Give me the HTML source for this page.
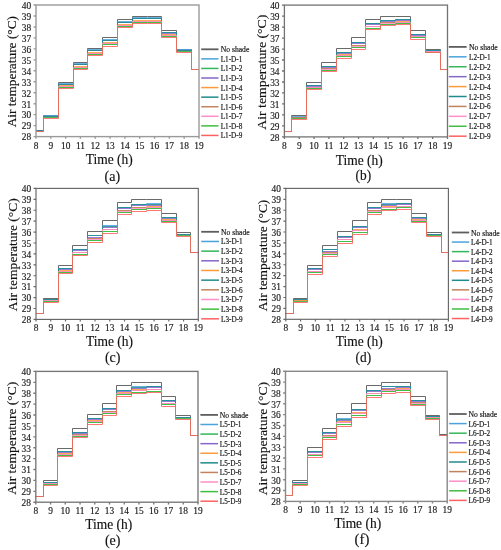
<!DOCTYPE html>
<html><head><meta charset="utf-8"><title>Air temperature</title>
<style>html,body{margin:0;padding:0;background:#fff;}body{width:501px;height:550px;overflow:hidden;}svg{display:block;}</style>
</head><body>
<svg width="501" height="550" viewBox="0 0 501 550" font-family='"Liberation Serif", "Times New Roman", serif'><g fill="none" stroke-width="1" stroke-opacity="0.85"><path d="M36 130.5 L43.5 130.5 L43.5 115.5 L58.5 115.5 L58.5 82.5 L73.5 82.5 L73.5 62.5 L87.5 62.5 L87.5 48.5 L102.5 48.5 L102.5 37.5 L117.5 37.5 L117.5 19.5 L132.5 19.5 L132.5 16.5 L147.5 16.5 L147.5 16.5 L161.5 16.5 L161.5 30.5 L176.5 30.5 L176.5 49.5 L191.5 49.5 L191.5 69.5 L199 69.5" stroke="#505050"/><path d="M36 130.5 L43.5 130.5 L43.5 115.5 L58.5 115.5 L58.5 83.5 L73.5 83.5 L73.5 63.5 L87.5 63.5 L87.5 49.5 L102.5 49.5 L102.5 39.5 L117.5 39.5 L117.5 21.5 L132.5 21.5 L132.5 17.5 L147.5 17.5 L147.5 17.5 L161.5 17.5 L161.5 32.5 L176.5 32.5 L176.5 49.5 L191.5 49.5 L191.5 69.5 L199 69.5" stroke="#4aa3dc"/><path d="M36 131.5 L43.5 131.5 L43.5 117.5 L58.5 117.5 L58.5 87.5 L73.5 87.5 L73.5 68.5 L87.5 68.5 L87.5 54.5 L102.5 54.5 L102.5 44.5 L117.5 44.5 L117.5 26.5 L132.5 26.5 L132.5 22.5 L147.5 22.5 L147.5 22.5 L161.5 22.5 L161.5 36.5 L176.5 36.5 L176.5 51.5 L191.5 51.5 L191.5 69.5 L199 69.5" stroke="#35b65a"/><path d="M36 130.5 L43.5 130.5 L43.5 116.5 L58.5 116.5 L58.5 84.5 L73.5 84.5 L73.5 64.5 L87.5 64.5 L87.5 50.5 L102.5 50.5 L102.5 40.5 L117.5 40.5 L117.5 22.5 L132.5 22.5 L132.5 18.5 L147.5 18.5 L147.5 18.5 L161.5 18.5 L161.5 33.5 L176.5 33.5 L176.5 50.5 L191.5 50.5 L191.5 69.5 L199 69.5" stroke="#8566c9"/><path d="M36 131.5 L43.5 131.5 L43.5 117.5 L58.5 117.5 L58.5 85.5 L73.5 85.5 L73.5 66.5 L87.5 66.5 L87.5 52.5 L102.5 52.5 L102.5 42.5 L117.5 42.5 L117.5 24.5 L132.5 24.5 L132.5 20.5 L147.5 20.5 L147.5 20.5 L161.5 20.5 L161.5 34.5 L176.5 34.5 L176.5 51.5 L191.5 51.5 L191.5 69.5 L199 69.5" stroke="#ff9a3a"/><path d="M36 130.5 L43.5 130.5 L43.5 116.5 L58.5 116.5 L58.5 84.5 L73.5 84.5 L73.5 64.5 L87.5 64.5 L87.5 50.5 L102.5 50.5 L102.5 40.5 L117.5 40.5 L117.5 22.5 L132.5 22.5 L132.5 18.5 L147.5 18.5 L147.5 18.5 L161.5 18.5 L161.5 32.5 L176.5 32.5 L176.5 50.5 L191.5 50.5 L191.5 69.5 L199 69.5" stroke="#1f8a8f"/><path d="M36 131.5 L43.5 131.5 L43.5 117.5 L58.5 117.5 L58.5 86.5 L73.5 86.5 L73.5 67.5 L87.5 67.5 L87.5 53.5 L102.5 53.5 L102.5 43.5 L117.5 43.5 L117.5 25.5 L132.5 25.5 L132.5 21.5 L147.5 21.5 L147.5 21.5 L161.5 21.5 L161.5 35.5 L176.5 35.5 L176.5 51.5 L191.5 51.5 L191.5 69.5 L199 69.5" stroke="#c4825c"/><path d="M36 131.5 L43.5 131.5 L43.5 117.5 L58.5 117.5 L58.5 86.5 L73.5 86.5 L73.5 67.5 L87.5 67.5 L87.5 53.5 L102.5 53.5 L102.5 43.5 L117.5 43.5 L117.5 25.5 L132.5 25.5 L132.5 21.5 L147.5 21.5 L147.5 21.5 L161.5 21.5 L161.5 35.5 L176.5 35.5 L176.5 51.5 L191.5 51.5 L191.5 69.5 L199 69.5" stroke="#ff8fc8"/><path d="M36 131.5 L43.5 131.5 L43.5 117.5 L58.5 117.5 L58.5 87.5 L73.5 87.5 L73.5 68.5 L87.5 68.5 L87.5 54.5 L102.5 54.5 L102.5 44.5 L117.5 44.5 L117.5 26.5 L132.5 26.5 L132.5 22.5 L147.5 22.5 L147.5 22.5 L161.5 22.5 L161.5 36.5 L176.5 36.5 L176.5 51.5 L191.5 51.5 L191.5 69.5 L199 69.5" stroke="#3fbe3f"/><path d="M36 131.5 L43.5 131.5 L43.5 118.5 L58.5 118.5 L58.5 88.5 L73.5 88.5 L73.5 69.5 L87.5 69.5 L87.5 55.5 L102.5 55.5 L102.5 46.5 L117.5 46.5 L117.5 27.5 L132.5 27.5 L132.5 23.5 L147.5 23.5 L147.5 23.5 L161.5 23.5 L161.5 37.5 L176.5 37.5 L176.5 52.5 L191.5 52.5 L191.5 69.5 L199 69.5" stroke="#ff6060"/></g><g fill="none" stroke="#9a9a9a" stroke-width="1.4"><rect x="36" y="5" width="163" height="131.6"/><path d="M33.6 136.6H36M33.6 125.63H36M33.6 114.67H36M33.6 103.7H36M33.6 92.73H36M33.6 81.77H36M33.6 70.8H36M33.6 59.83H36M33.6 48.87H36M33.6 37.9H36M33.6 26.93H36M33.6 15.97H36M33.6 5H36M36 136.6V138.8M50.82 136.6V138.8M65.64 136.6V138.8M80.45 136.6V138.8M95.27 136.6V138.8M110.09 136.6V138.8M124.91 136.6V138.8M139.73 136.6V138.8M154.55 136.6V138.8M169.36 136.6V138.8M184.18 136.6V138.8M199 136.6V138.8"/></g><g font-size="9.4" fill="#1a1a1a" stroke="#1a1a1a" stroke-width="0.16"><text x="31.1" y="140.4" text-anchor="end">28</text><text x="31.1" y="129.43" text-anchor="end">29</text><text x="31.1" y="118.47" text-anchor="end">30</text><text x="31.1" y="107.5" text-anchor="end">31</text><text x="31.1" y="96.53" text-anchor="end">32</text><text x="31.1" y="85.57" text-anchor="end">33</text><text x="31.1" y="74.6" text-anchor="end">34</text><text x="31.1" y="63.63" text-anchor="end">35</text><text x="31.1" y="52.67" text-anchor="end">36</text><text x="31.1" y="41.7" text-anchor="end">37</text><text x="31.1" y="30.73" text-anchor="end">38</text><text x="31.1" y="19.77" text-anchor="end">39</text><text x="31.1" y="8.8" text-anchor="end">40</text><text x="36" y="148.6" text-anchor="middle">8</text><text x="50.82" y="148.6" text-anchor="middle">9</text><text x="65.64" y="148.6" text-anchor="middle">10</text><text x="80.45" y="148.6" text-anchor="middle">11</text><text x="95.27" y="148.6" text-anchor="middle">12</text><text x="110.09" y="148.6" text-anchor="middle">13</text><text x="124.91" y="148.6" text-anchor="middle">14</text><text x="139.73" y="148.6" text-anchor="middle">15</text><text x="154.55" y="148.6" text-anchor="middle">16</text><text x="169.36" y="148.6" text-anchor="middle">17</text><text x="184.18" y="148.6" text-anchor="middle">18</text><text x="199" y="148.6" text-anchor="middle">19</text></g><text transform="translate(15.9 71.65) scale(0.93 1) rotate(-90)" text-anchor="middle" font-size="13.36" fill="#111" stroke="#111" stroke-width="0.15">Air temperature (°C)</text><text x="109.3" y="163.5" text-anchor="middle" font-size="13.8" textLength="47" lengthAdjust="spacingAndGlyphs" fill="#111" stroke="#111" stroke-width="0.15">Time (h)</text><text x="112.4" y="180.6" text-anchor="middle" font-size="14.5" textLength="15.6" lengthAdjust="spacingAndGlyphs" fill="#111" stroke="#111" stroke-width="0.15">(a)</text><g stroke-width="1.5"><path d="M201.2 49.3H218.5" stroke="#5e5e5e" stroke-width="1.8"/><path d="M201.2 58.87H218.5" stroke="#4aa3dc"/><path d="M201.2 68.44H218.5" stroke="#35b65a"/><path d="M201.2 78.01H218.5" stroke="#8566c9"/><path d="M201.2 87.58H218.5" stroke="#ff9a3a"/><path d="M201.2 97.15H218.5" stroke="#1f8a8f"/><path d="M201.2 106.72H218.5" stroke="#c4825c"/><path d="M201.2 116.29H218.5" stroke="#ff8fc8"/><path d="M201.2 125.86H218.5" stroke="#3fbe3f"/><path d="M201.2 135.43H218.5" stroke="#ff6060"/></g><g font-size="8" fill="#1a1a1a" stroke="#1a1a1a" stroke-width="0.2"><text x="220.7" y="52.3" textLength="28.6" lengthAdjust="spacingAndGlyphs">No shade</text><text x="220.7" y="61.87" textLength="21.6" lengthAdjust="spacingAndGlyphs">L1-D-1</text><text x="220.7" y="71.44" textLength="21.6" lengthAdjust="spacingAndGlyphs">L1-D-2</text><text x="220.7" y="81.01" textLength="21.6" lengthAdjust="spacingAndGlyphs">L1-D-3</text><text x="220.7" y="90.58" textLength="21.6" lengthAdjust="spacingAndGlyphs">L1-D-4</text><text x="220.7" y="100.15" textLength="21.6" lengthAdjust="spacingAndGlyphs">L1-D-5</text><text x="220.7" y="109.72" textLength="21.6" lengthAdjust="spacingAndGlyphs">L1-D-6</text><text x="220.7" y="119.29" textLength="21.6" lengthAdjust="spacingAndGlyphs">L1-D-7</text><text x="220.7" y="128.86" textLength="21.6" lengthAdjust="spacingAndGlyphs">L1-D-8</text><text x="220.7" y="138.43" textLength="21.6" lengthAdjust="spacingAndGlyphs">L1-D-9</text></g><g fill="none" stroke-width="1" stroke-opacity="0.85"><path d="M284.4 131.5 L291.5 131.5 L291.5 115.5 L306.5 115.5 L306.5 82.5 L321.5 82.5 L321.5 62.5 L336.5 62.5 L336.5 48.5 L351.5 48.5 L351.5 37.5 L365.5 37.5 L365.5 19.5 L380.5 19.5 L380.5 16.5 L395.5 16.5 L395.5 16.5 L410.5 16.5 L410.5 30.5 L425.5 30.5 L425.5 49.5 L440.5 49.5 L440.5 69.5 L447.5 69.5" stroke="#505050"/><path d="M284.4 131.5 L291.5 131.5 L291.5 116.5 L306.5 116.5 L306.5 85.5 L321.5 85.5 L321.5 66.5 L336.5 66.5 L336.5 52.5 L351.5 52.5 L351.5 42.5 L365.5 42.5 L365.5 23.5 L380.5 23.5 L380.5 20.5 L395.5 20.5 L395.5 19.5 L410.5 19.5 L410.5 34.5 L425.5 34.5 L425.5 50.5 L440.5 50.5 L440.5 69.5 L447.5 69.5" stroke="#4aa3dc"/><path d="M284.4 131.5 L291.5 131.5 L291.5 118.5 L306.5 118.5 L306.5 88.5 L321.5 88.5 L321.5 70.5 L336.5 70.5 L336.5 56.5 L351.5 56.5 L351.5 47.5 L365.5 47.5 L365.5 28.5 L380.5 28.5 L380.5 24.5 L395.5 24.5 L395.5 23.5 L410.5 23.5 L410.5 37.5 L425.5 37.5 L425.5 52.5 L440.5 52.5 L440.5 69.5 L447.5 69.5" stroke="#35b65a"/><path d="M284.4 131.5 L291.5 131.5 L291.5 117.5 L306.5 117.5 L306.5 86.5 L321.5 86.5 L321.5 67.5 L336.5 67.5 L336.5 53.5 L351.5 53.5 L351.5 43.5 L365.5 43.5 L365.5 24.5 L380.5 24.5 L380.5 21.5 L395.5 21.5 L395.5 20.5 L410.5 20.5 L410.5 35.5 L425.5 35.5 L425.5 51.5 L440.5 51.5 L440.5 69.5 L447.5 69.5" stroke="#8566c9"/><path d="M284.4 131.5 L291.5 131.5 L291.5 117.5 L306.5 117.5 L306.5 87.5 L321.5 87.5 L321.5 68.5 L336.5 68.5 L336.5 54.5 L351.5 54.5 L351.5 45.5 L365.5 45.5 L365.5 26.5 L380.5 26.5 L380.5 22.5 L395.5 22.5 L395.5 21.5 L410.5 21.5 L410.5 36.5 L425.5 36.5 L425.5 51.5 L440.5 51.5 L440.5 69.5 L447.5 69.5" stroke="#ff9a3a"/><path d="M284.4 131.5 L291.5 131.5 L291.5 117.5 L306.5 117.5 L306.5 85.5 L321.5 85.5 L321.5 66.5 L336.5 66.5 L336.5 52.5 L351.5 52.5 L351.5 42.5 L365.5 42.5 L365.5 23.5 L380.5 23.5 L380.5 20.5 L395.5 20.5 L395.5 19.5 L410.5 19.5 L410.5 34.5 L425.5 34.5 L425.5 50.5 L440.5 50.5 L440.5 69.5 L447.5 69.5" stroke="#1f8a8f"/><path d="M284.4 131.5 L291.5 131.5 L291.5 117.5 L306.5 117.5 L306.5 87.5 L321.5 87.5 L321.5 68.5 L336.5 68.5 L336.5 55.5 L351.5 55.5 L351.5 45.5 L365.5 45.5 L365.5 26.5 L380.5 26.5 L380.5 22.5 L395.5 22.5 L395.5 22.5 L410.5 22.5 L410.5 36.5 L425.5 36.5 L425.5 51.5 L440.5 51.5 L440.5 69.5 L447.5 69.5" stroke="#c4825c"/><path d="M284.4 131.5 L291.5 131.5 L291.5 118.5 L306.5 118.5 L306.5 87.5 L321.5 87.5 L321.5 69.5 L336.5 69.5 L336.5 55.5 L351.5 55.5 L351.5 46.5 L365.5 46.5 L365.5 26.5 L380.5 26.5 L380.5 23.5 L395.5 23.5 L395.5 22.5 L410.5 22.5 L410.5 36.5 L425.5 36.5 L425.5 51.5 L440.5 51.5 L440.5 69.5 L447.5 69.5" stroke="#ff8fc8"/><path d="M284.4 131.5 L291.5 131.5 L291.5 118.5 L306.5 118.5 L306.5 88.5 L321.5 88.5 L321.5 70.5 L336.5 70.5 L336.5 56.5 L351.5 56.5 L351.5 47.5 L365.5 47.5 L365.5 28.5 L380.5 28.5 L380.5 24.5 L395.5 24.5 L395.5 23.5 L410.5 23.5 L410.5 37.5 L425.5 37.5 L425.5 52.5 L440.5 52.5 L440.5 69.5 L447.5 69.5" stroke="#3fbe3f"/><path d="M284.4 131.5 L291.5 131.5 L291.5 119.5 L306.5 119.5 L306.5 89.5 L321.5 89.5 L321.5 71.5 L336.5 71.5 L336.5 58.5 L351.5 58.5 L351.5 49.5 L365.5 49.5 L365.5 29.5 L380.5 29.5 L380.5 25.5 L395.5 25.5 L395.5 24.5 L410.5 24.5 L410.5 39.5 L425.5 39.5 L425.5 52.5 L440.5 52.5 L440.5 69.5 L447.5 69.5" stroke="#ff6060"/></g><g fill="none" stroke="#737373" stroke-width="1.3"><rect x="284.4" y="5.1" width="163.1" height="131.8"/><path d="M282 136.9H284.4M282 125.92H284.4M282 114.93H284.4M282 103.95H284.4M282 92.97H284.4M282 81.98H284.4M282 71H284.4M282 60.02H284.4M282 49.03H284.4M282 38.05H284.4M282 27.07H284.4M282 16.08H284.4M282 5.1H284.4M284.4 136.9V139.1M299.23 136.9V139.1M314.05 136.9V139.1M328.88 136.9V139.1M343.71 136.9V139.1M358.54 136.9V139.1M373.36 136.9V139.1M388.19 136.9V139.1M403.02 136.9V139.1M417.85 136.9V139.1M432.67 136.9V139.1M447.5 136.9V139.1"/></g><g font-size="9.4" fill="#1a1a1a" stroke="#1a1a1a" stroke-width="0.16"><text x="279.5" y="140.7" text-anchor="end">28</text><text x="279.5" y="129.72" text-anchor="end">29</text><text x="279.5" y="118.73" text-anchor="end">30</text><text x="279.5" y="107.75" text-anchor="end">31</text><text x="279.5" y="96.77" text-anchor="end">32</text><text x="279.5" y="85.78" text-anchor="end">33</text><text x="279.5" y="74.8" text-anchor="end">34</text><text x="279.5" y="63.82" text-anchor="end">35</text><text x="279.5" y="52.83" text-anchor="end">36</text><text x="279.5" y="41.85" text-anchor="end">37</text><text x="279.5" y="30.87" text-anchor="end">38</text><text x="279.5" y="19.88" text-anchor="end">39</text><text x="279.5" y="8.9" text-anchor="end">40</text><text x="284.4" y="148.9" text-anchor="middle">8</text><text x="299.23" y="148.9" text-anchor="middle">9</text><text x="314.05" y="148.9" text-anchor="middle">10</text><text x="328.88" y="148.9" text-anchor="middle">11</text><text x="343.71" y="148.9" text-anchor="middle">12</text><text x="358.54" y="148.9" text-anchor="middle">13</text><text x="373.36" y="148.9" text-anchor="middle">14</text><text x="388.19" y="148.9" text-anchor="middle">15</text><text x="403.02" y="148.9" text-anchor="middle">16</text><text x="417.85" y="148.9" text-anchor="middle">17</text><text x="432.67" y="148.9" text-anchor="middle">18</text><text x="447.5" y="148.9" text-anchor="middle">19</text></g><text transform="translate(266.3 72.2) scale(0.93 1) rotate(-90)" text-anchor="middle" font-size="13.83" fill="#111" stroke="#111" stroke-width="0.15">Air temperature (°C)</text><text x="359.25" y="164.6" text-anchor="middle" font-size="13.8" textLength="47" lengthAdjust="spacingAndGlyphs" fill="#111" stroke="#111" stroke-width="0.15">Time (h)</text><text x="363.35" y="180.3" text-anchor="middle" font-size="14.5" textLength="15.6" lengthAdjust="spacingAndGlyphs" fill="#111" stroke="#111" stroke-width="0.15">(b)</text><g stroke-width="1.5"><path d="M448.8 46.9H466.6" stroke="#5e5e5e" stroke-width="1.8"/><path d="M448.8 56.82H466.6" stroke="#4aa3dc"/><path d="M448.8 66.74H466.6" stroke="#35b65a"/><path d="M448.8 76.66H466.6" stroke="#8566c9"/><path d="M448.8 86.58H466.6" stroke="#ff9a3a"/><path d="M448.8 96.5H466.6" stroke="#1f8a8f"/><path d="M448.8 106.42H466.6" stroke="#c4825c"/><path d="M448.8 116.34H466.6" stroke="#ff8fc8"/><path d="M448.8 126.26H466.6" stroke="#3fbe3f"/><path d="M448.8 136.18H466.6" stroke="#ff6060"/></g><g font-size="8" fill="#1a1a1a" stroke="#1a1a1a" stroke-width="0.2"><text x="469" y="49.9" textLength="28.6" lengthAdjust="spacingAndGlyphs">No shade</text><text x="469" y="59.82" textLength="21.6" lengthAdjust="spacingAndGlyphs">L2-D-1</text><text x="469" y="69.74" textLength="21.6" lengthAdjust="spacingAndGlyphs">L2-D-2</text><text x="469" y="79.66" textLength="21.6" lengthAdjust="spacingAndGlyphs">L2-D-3</text><text x="469" y="89.58" textLength="21.6" lengthAdjust="spacingAndGlyphs">L2-D-4</text><text x="469" y="99.5" textLength="21.6" lengthAdjust="spacingAndGlyphs">L2-D-5</text><text x="469" y="109.42" textLength="21.6" lengthAdjust="spacingAndGlyphs">L2-D-6</text><text x="469" y="119.34" textLength="21.6" lengthAdjust="spacingAndGlyphs">L2-D-7</text><text x="469" y="129.26" textLength="21.6" lengthAdjust="spacingAndGlyphs">L2-D-8</text><text x="469" y="139.18" textLength="21.6" lengthAdjust="spacingAndGlyphs">L2-D-9</text></g><g fill="none" stroke-width="1" stroke-opacity="0.85"><path d="M36 313.5 L43.5 313.5 L43.5 298.5 L58.5 298.5 L58.5 265.5 L72.5 265.5 L72.5 245.5 L87.5 245.5 L87.5 231.5 L102.5 231.5 L102.5 220.5 L117.5 220.5 L117.5 202.5 L131.5 202.5 L131.5 199.5 L146.5 199.5 L146.5 199.5 L161.5 199.5 L161.5 213.5 L176.5 213.5 L176.5 232.5 L190.5 232.5 L190.5 252.5 L198.3 252.5" stroke="#505050"/><path d="M36 313.5 L43.5 313.5 L43.5 299.5 L58.5 299.5 L58.5 268.5 L72.5 268.5 L72.5 249.5 L87.5 249.5 L87.5 235.5 L102.5 235.5 L102.5 225.5 L117.5 225.5 L117.5 207.5 L131.5 207.5 L131.5 204.5 L146.5 204.5 L146.5 203.5 L161.5 203.5 L161.5 217.5 L176.5 217.5 L176.5 234.5 L190.5 234.5 L190.5 252.5 L198.3 252.5" stroke="#4aa3dc"/><path d="M36 313.5 L43.5 313.5 L43.5 301.5 L58.5 301.5 L58.5 272.5 L72.5 272.5 L72.5 254.5 L87.5 254.5 L87.5 240.5 L102.5 240.5 L102.5 231.5 L117.5 231.5 L117.5 212.5 L131.5 212.5 L131.5 209.5 L146.5 209.5 L146.5 208.5 L161.5 208.5 L161.5 221.5 L176.5 221.5 L176.5 235.5 L190.5 235.5 L190.5 252.5 L198.3 252.5" stroke="#35b65a"/><path d="M36 313.5 L43.5 313.5 L43.5 300.5 L58.5 300.5 L58.5 269.5 L72.5 269.5 L72.5 250.5 L87.5 250.5 L87.5 237.5 L102.5 237.5 L102.5 227.5 L117.5 227.5 L117.5 208.5 L131.5 208.5 L131.5 205.5 L146.5 205.5 L146.5 205.5 L161.5 205.5 L161.5 218.5 L176.5 218.5 L176.5 234.5 L190.5 234.5 L190.5 252.5 L198.3 252.5" stroke="#8566c9"/><path d="M36 313.5 L43.5 313.5 L43.5 300.5 L58.5 300.5 L58.5 270.5 L72.5 270.5 L72.5 252.5 L87.5 252.5 L87.5 238.5 L102.5 238.5 L102.5 229.5 L117.5 229.5 L117.5 210.5 L131.5 210.5 L131.5 207.5 L146.5 207.5 L146.5 206.5 L161.5 206.5 L161.5 219.5 L176.5 219.5 L176.5 235.5 L190.5 235.5 L190.5 252.5 L198.3 252.5" stroke="#ff9a3a"/><path d="M36 313.5 L43.5 313.5 L43.5 299.5 L58.5 299.5 L58.5 268.5 L72.5 268.5 L72.5 249.5 L87.5 249.5 L87.5 235.5 L102.5 235.5 L102.5 226.5 L117.5 226.5 L117.5 207.5 L131.5 207.5 L131.5 204.5 L146.5 204.5 L146.5 204.5 L161.5 204.5 L161.5 217.5 L176.5 217.5 L176.5 234.5 L190.5 234.5 L190.5 252.5 L198.3 252.5" stroke="#1f8a8f"/><path d="M36 313.5 L43.5 313.5 L43.5 300.5 L58.5 300.5 L58.5 271.5 L72.5 271.5 L72.5 252.5 L87.5 252.5 L87.5 238.5 L102.5 238.5 L102.5 229.5 L117.5 229.5 L117.5 210.5 L131.5 210.5 L131.5 207.5 L146.5 207.5 L146.5 207.5 L161.5 207.5 L161.5 220.5 L176.5 220.5 L176.5 235.5 L190.5 235.5 L190.5 252.5 L198.3 252.5" stroke="#c4825c"/><path d="M36 313.5 L43.5 313.5 L43.5 300.5 L58.5 300.5 L58.5 271.5 L72.5 271.5 L72.5 252.5 L87.5 252.5 L87.5 239.5 L102.5 239.5 L102.5 229.5 L117.5 229.5 L117.5 211.5 L131.5 211.5 L131.5 208.5 L146.5 208.5 L146.5 207.5 L161.5 207.5 L161.5 220.5 L176.5 220.5 L176.5 235.5 L190.5 235.5 L190.5 252.5 L198.3 252.5" stroke="#ff8fc8"/><path d="M36 313.5 L43.5 313.5 L43.5 301.5 L58.5 301.5 L58.5 272.5 L72.5 272.5 L72.5 254.5 L87.5 254.5 L87.5 240.5 L102.5 240.5 L102.5 231.5 L117.5 231.5 L117.5 212.5 L131.5 212.5 L131.5 209.5 L146.5 209.5 L146.5 208.5 L161.5 208.5 L161.5 221.5 L176.5 221.5 L176.5 235.5 L190.5 235.5 L190.5 252.5 L198.3 252.5" stroke="#3fbe3f"/><path d="M36 313.5 L43.5 313.5 L43.5 302.5 L58.5 302.5 L58.5 273.5 L72.5 273.5 L72.5 255.5 L87.5 255.5 L87.5 242.5 L102.5 242.5 L102.5 233.5 L117.5 233.5 L117.5 214.5 L131.5 214.5 L131.5 211.5 L146.5 211.5 L146.5 210.5 L161.5 210.5 L161.5 222.5 L176.5 222.5 L176.5 236.5 L190.5 236.5 L190.5 252.5 L198.3 252.5" stroke="#ff6060"/></g><g fill="none" stroke="#666" stroke-width="1.15"><rect x="36" y="188.4" width="162.3" height="131"/><path d="M33.6 319.4H36M33.6 308.48H36M33.6 297.57H36M33.6 286.65H36M33.6 275.73H36M33.6 264.82H36M33.6 253.9H36M33.6 242.98H36M33.6 232.07H36M33.6 221.15H36M33.6 210.23H36M33.6 199.32H36M33.6 188.4H36M36 319.4V321.6M50.75 319.4V321.6M65.51 319.4V321.6M80.26 319.4V321.6M95.02 319.4V321.6M109.77 319.4V321.6M124.53 319.4V321.6M139.28 319.4V321.6M154.04 319.4V321.6M168.79 319.4V321.6M183.55 319.4V321.6M198.3 319.4V321.6"/></g><g font-size="9.4" fill="#1a1a1a" stroke="#1a1a1a" stroke-width="0.16"><text x="31.1" y="323.2" text-anchor="end">28</text><text x="31.1" y="312.28" text-anchor="end">29</text><text x="31.1" y="301.37" text-anchor="end">30</text><text x="31.1" y="290.45" text-anchor="end">31</text><text x="31.1" y="279.53" text-anchor="end">32</text><text x="31.1" y="268.62" text-anchor="end">33</text><text x="31.1" y="257.7" text-anchor="end">34</text><text x="31.1" y="246.78" text-anchor="end">35</text><text x="31.1" y="235.87" text-anchor="end">36</text><text x="31.1" y="224.95" text-anchor="end">37</text><text x="31.1" y="214.03" text-anchor="end">38</text><text x="31.1" y="203.12" text-anchor="end">39</text><text x="31.1" y="192.2" text-anchor="end">40</text><text x="36" y="331.4" text-anchor="middle">8</text><text x="50.75" y="331.4" text-anchor="middle">9</text><text x="65.51" y="331.4" text-anchor="middle">10</text><text x="80.26" y="331.4" text-anchor="middle">11</text><text x="95.02" y="331.4" text-anchor="middle">12</text><text x="109.77" y="331.4" text-anchor="middle">13</text><text x="124.53" y="331.4" text-anchor="middle">14</text><text x="139.28" y="331.4" text-anchor="middle">15</text><text x="154.04" y="331.4" text-anchor="middle">16</text><text x="168.79" y="331.4" text-anchor="middle">17</text><text x="183.55" y="331.4" text-anchor="middle">18</text><text x="198.3" y="331.4" text-anchor="middle">19</text></g><text transform="translate(16.5 254.65) scale(0.93 1) rotate(-90)" text-anchor="middle" font-size="13.55" fill="#111" stroke="#111" stroke-width="0.15">Air temperature (°C)</text><text x="109.55" y="345.7" text-anchor="middle" font-size="13.8" textLength="47" lengthAdjust="spacingAndGlyphs" fill="#111" stroke="#111" stroke-width="0.15">Time (h)</text><text x="112.75" y="362" text-anchor="middle" font-size="14.5" textLength="15.6" lengthAdjust="spacingAndGlyphs" fill="#111" stroke="#111" stroke-width="0.15">(c)</text><g stroke-width="1.5"><path d="M201.2 231.8H219" stroke="#5e5e5e" stroke-width="1.8"/><path d="M201.2 241.47H219" stroke="#4aa3dc"/><path d="M201.2 251.14H219" stroke="#35b65a"/><path d="M201.2 260.81H219" stroke="#8566c9"/><path d="M201.2 270.48H219" stroke="#ff9a3a"/><path d="M201.2 280.15H219" stroke="#1f8a8f"/><path d="M201.2 289.82H219" stroke="#c4825c"/><path d="M201.2 299.49H219" stroke="#ff8fc8"/><path d="M201.2 309.16H219" stroke="#3fbe3f"/><path d="M201.2 318.83H219" stroke="#ff6060"/></g><g font-size="8" fill="#1a1a1a" stroke="#1a1a1a" stroke-width="0.2"><text x="221" y="234.8" textLength="28.6" lengthAdjust="spacingAndGlyphs">No shade</text><text x="221" y="244.47" textLength="21.6" lengthAdjust="spacingAndGlyphs">L3-D-1</text><text x="221" y="254.14" textLength="21.6" lengthAdjust="spacingAndGlyphs">L3-D-2</text><text x="221" y="263.81" textLength="21.6" lengthAdjust="spacingAndGlyphs">L3-D-3</text><text x="221" y="273.48" textLength="21.6" lengthAdjust="spacingAndGlyphs">L3-D-4</text><text x="221" y="283.15" textLength="21.6" lengthAdjust="spacingAndGlyphs">L3-D-5</text><text x="221" y="292.82" textLength="21.6" lengthAdjust="spacingAndGlyphs">L3-D-6</text><text x="221" y="302.49" textLength="21.6" lengthAdjust="spacingAndGlyphs">L3-D-7</text><text x="221" y="312.16" textLength="21.6" lengthAdjust="spacingAndGlyphs">L3-D-8</text><text x="221" y="321.83" textLength="21.6" lengthAdjust="spacingAndGlyphs">L3-D-9</text></g><g fill="none" stroke-width="1" stroke-opacity="0.85"><path d="M285.8 313.5 L293.5 313.5 L293.5 298.5 L307.5 298.5 L307.5 265.5 L322.5 265.5 L322.5 245.5 L337.5 245.5 L337.5 231.5 L352.5 231.5 L352.5 220.5 L367.5 220.5 L367.5 202.5 L381.5 202.5 L381.5 199.5 L396.5 199.5 L396.5 199.5 L411.5 199.5 L411.5 213.5 L426.5 213.5 L426.5 232.5 L441.5 232.5 L441.5 252.5 L448.4 252.5" stroke="#505050"/><path d="M285.8 313.5 L293.5 313.5 L293.5 299.5 L307.5 299.5 L307.5 268.5 L322.5 268.5 L322.5 249.5 L337.5 249.5 L337.5 236.5 L352.5 236.5 L352.5 226.5 L367.5 226.5 L367.5 207.5 L381.5 207.5 L381.5 203.5 L396.5 203.5 L396.5 203.5 L411.5 203.5 L411.5 217.5 L426.5 217.5 L426.5 234.5 L441.5 234.5 L441.5 252.5 L448.4 252.5" stroke="#4aa3dc"/><path d="M285.8 313.5 L293.5 313.5 L293.5 301.5 L307.5 301.5 L307.5 272.5 L322.5 272.5 L322.5 254.5 L337.5 254.5 L337.5 241.5 L352.5 241.5 L352.5 232.5 L367.5 232.5 L367.5 212.5 L381.5 212.5 L381.5 209.5 L396.5 209.5 L396.5 207.5 L411.5 207.5 L411.5 221.5 L426.5 221.5 L426.5 235.5 L441.5 235.5 L441.5 252.5 L448.4 252.5" stroke="#35b65a"/><path d="M285.8 313.5 L293.5 313.5 L293.5 300.5 L307.5 300.5 L307.5 269.5 L322.5 269.5 L322.5 251.5 L337.5 251.5 L337.5 237.5 L352.5 237.5 L352.5 227.5 L367.5 227.5 L367.5 208.5 L381.5 208.5 L381.5 205.5 L396.5 205.5 L396.5 204.5 L411.5 204.5 L411.5 218.5 L426.5 218.5 L426.5 234.5 L441.5 234.5 L441.5 252.5 L448.4 252.5" stroke="#8566c9"/><path d="M285.8 313.5 L293.5 313.5 L293.5 300.5 L307.5 300.5 L307.5 271.5 L322.5 271.5 L322.5 252.5 L337.5 252.5 L337.5 239.5 L352.5 239.5 L352.5 229.5 L367.5 229.5 L367.5 210.5 L381.5 210.5 L381.5 206.5 L396.5 206.5 L396.5 206.5 L411.5 206.5 L411.5 219.5 L426.5 219.5 L426.5 235.5 L441.5 235.5 L441.5 252.5 L448.4 252.5" stroke="#ff9a3a"/><path d="M285.8 313.5 L293.5 313.5 L293.5 299.5 L307.5 299.5 L307.5 268.5 L322.5 268.5 L322.5 249.5 L337.5 249.5 L337.5 236.5 L352.5 236.5 L352.5 226.5 L367.5 226.5 L367.5 207.5 L381.5 207.5 L381.5 204.5 L396.5 204.5 L396.5 203.5 L411.5 203.5 L411.5 217.5 L426.5 217.5 L426.5 234.5 L441.5 234.5 L441.5 252.5 L448.4 252.5" stroke="#1f8a8f"/><path d="M285.8 313.5 L293.5 313.5 L293.5 301.5 L307.5 301.5 L307.5 271.5 L322.5 271.5 L322.5 252.5 L337.5 252.5 L337.5 239.5 L352.5 239.5 L352.5 230.5 L367.5 230.5 L367.5 210.5 L381.5 210.5 L381.5 207.5 L396.5 207.5 L396.5 206.5 L411.5 206.5 L411.5 220.5 L426.5 220.5 L426.5 235.5 L441.5 235.5 L441.5 252.5 L448.4 252.5" stroke="#c4825c"/><path d="M285.8 313.5 L293.5 313.5 L293.5 301.5 L307.5 301.5 L307.5 271.5 L322.5 271.5 L322.5 253.5 L337.5 253.5 L337.5 239.5 L352.5 239.5 L352.5 230.5 L367.5 230.5 L367.5 211.5 L381.5 211.5 L381.5 207.5 L396.5 207.5 L396.5 206.5 L411.5 206.5 L411.5 220.5 L426.5 220.5 L426.5 235.5 L441.5 235.5 L441.5 252.5 L448.4 252.5" stroke="#ff8fc8"/><path d="M285.8 313.5 L293.5 313.5 L293.5 301.5 L307.5 301.5 L307.5 272.5 L322.5 272.5 L322.5 254.5 L337.5 254.5 L337.5 241.5 L352.5 241.5 L352.5 232.5 L367.5 232.5 L367.5 212.5 L381.5 212.5 L381.5 209.5 L396.5 209.5 L396.5 207.5 L411.5 207.5 L411.5 221.5 L426.5 221.5 L426.5 235.5 L441.5 235.5 L441.5 252.5 L448.4 252.5" stroke="#3fbe3f"/><path d="M285.8 313.5 L293.5 313.5 L293.5 302.5 L307.5 302.5 L307.5 274.5 L322.5 274.5 L322.5 256.5 L337.5 256.5 L337.5 243.5 L352.5 243.5 L352.5 234.5 L367.5 234.5 L367.5 214.5 L381.5 214.5 L381.5 210.5 L396.5 210.5 L396.5 209.5 L411.5 209.5 L411.5 222.5 L426.5 222.5 L426.5 236.5 L441.5 236.5 L441.5 252.5 L448.4 252.5" stroke="#ff6060"/></g><g fill="none" stroke="#666" stroke-width="1.15"><rect x="285.8" y="188.4" width="162.6" height="130.9"/><path d="M283.4 319.3H285.8M283.4 308.39H285.8M283.4 297.48H285.8M283.4 286.57H285.8M283.4 275.67H285.8M283.4 264.76H285.8M283.4 253.85H285.8M283.4 242.94H285.8M283.4 232.03H285.8M283.4 221.12H285.8M283.4 210.22H285.8M283.4 199.31H285.8M283.4 188.4H285.8M285.8 319.3V321.5M300.58 319.3V321.5M315.36 319.3V321.5M330.15 319.3V321.5M344.93 319.3V321.5M359.71 319.3V321.5M374.49 319.3V321.5M389.27 319.3V321.5M404.05 319.3V321.5M418.84 319.3V321.5M433.62 319.3V321.5M448.4 319.3V321.5"/></g><g font-size="9.4" fill="#1a1a1a" stroke="#1a1a1a" stroke-width="0.16"><text x="280.9" y="323.1" text-anchor="end">28</text><text x="280.9" y="312.19" text-anchor="end">29</text><text x="280.9" y="301.28" text-anchor="end">30</text><text x="280.9" y="290.38" text-anchor="end">31</text><text x="280.9" y="279.47" text-anchor="end">32</text><text x="280.9" y="268.56" text-anchor="end">33</text><text x="280.9" y="257.65" text-anchor="end">34</text><text x="280.9" y="246.74" text-anchor="end">35</text><text x="280.9" y="235.83" text-anchor="end">36</text><text x="280.9" y="224.93" text-anchor="end">37</text><text x="280.9" y="214.02" text-anchor="end">38</text><text x="280.9" y="203.11" text-anchor="end">39</text><text x="280.9" y="192.2" text-anchor="end">40</text><text x="285.8" y="331.3" text-anchor="middle">8</text><text x="300.58" y="331.3" text-anchor="middle">9</text><text x="315.36" y="331.3" text-anchor="middle">10</text><text x="330.15" y="331.3" text-anchor="middle">11</text><text x="344.93" y="331.3" text-anchor="middle">12</text><text x="359.71" y="331.3" text-anchor="middle">13</text><text x="374.49" y="331.3" text-anchor="middle">14</text><text x="389.27" y="331.3" text-anchor="middle">15</text><text x="404.05" y="331.3" text-anchor="middle">16</text><text x="418.84" y="331.3" text-anchor="middle">17</text><text x="433.62" y="331.3" text-anchor="middle">18</text><text x="448.4" y="331.3" text-anchor="middle">19</text></g><text transform="translate(266.9 255.45) scale(0.93 1) rotate(-90)" text-anchor="middle" font-size="13.39" fill="#111" stroke="#111" stroke-width="0.15">Air temperature (°C)</text><text x="359.25" y="345.7" text-anchor="middle" font-size="13.8" textLength="47" lengthAdjust="spacingAndGlyphs" fill="#111" stroke="#111" stroke-width="0.15">Time (h)</text><text x="363.35" y="361.7" text-anchor="middle" font-size="14.5" textLength="15.6" lengthAdjust="spacingAndGlyphs" fill="#111" stroke="#111" stroke-width="0.15">(d)</text><g stroke-width="1.5"><path d="M451.8 232.5H469.2" stroke="#5e5e5e" stroke-width="1.8"/><path d="M451.8 242.06H469.2" stroke="#4aa3dc"/><path d="M451.8 251.62H469.2" stroke="#35b65a"/><path d="M451.8 261.18H469.2" stroke="#8566c9"/><path d="M451.8 270.74H469.2" stroke="#ff9a3a"/><path d="M451.8 280.3H469.2" stroke="#1f8a8f"/><path d="M451.8 289.86H469.2" stroke="#c4825c"/><path d="M451.8 299.42H469.2" stroke="#ff8fc8"/><path d="M451.8 308.98H469.2" stroke="#3fbe3f"/><path d="M451.8 318.54H469.2" stroke="#ff6060"/></g><g font-size="8" fill="#1a1a1a" stroke="#1a1a1a" stroke-width="0.2"><text x="471" y="235.5" textLength="28.6" lengthAdjust="spacingAndGlyphs">No shade</text><text x="471" y="245.06" textLength="21.6" lengthAdjust="spacingAndGlyphs">L4-D-1</text><text x="471" y="254.62" textLength="21.6" lengthAdjust="spacingAndGlyphs">L4-D-2</text><text x="471" y="264.18" textLength="21.6" lengthAdjust="spacingAndGlyphs">L4-D-3</text><text x="471" y="273.74" textLength="21.6" lengthAdjust="spacingAndGlyphs">L4-D-4</text><text x="471" y="283.3" textLength="21.6" lengthAdjust="spacingAndGlyphs">L4-D-5</text><text x="471" y="292.86" textLength="21.6" lengthAdjust="spacingAndGlyphs">L4-D-6</text><text x="471" y="302.42" textLength="21.6" lengthAdjust="spacingAndGlyphs">L4-D-7</text><text x="471" y="311.98" textLength="21.6" lengthAdjust="spacingAndGlyphs">L4-D-8</text><text x="471" y="321.54" textLength="21.6" lengthAdjust="spacingAndGlyphs">L4-D-9</text></g><g fill="none" stroke-width="1" stroke-opacity="0.85"><path d="M35.8 496.5 L43.5 496.5 L43.5 480.5 L57.5 480.5 L57.5 448.5 L72.5 448.5 L72.5 428.5 L87.5 428.5 L87.5 414.5 L102.5 414.5 L102.5 403.5 L116.5 403.5 L116.5 385.5 L131.5 385.5 L131.5 382.5 L146.5 382.5 L146.5 382.5 L161.5 382.5 L161.5 396.5 L175.5 396.5 L175.5 415.5 L190.5 415.5 L190.5 435.5 L198 435.5" stroke="#505050"/><path d="M35.8 496.5 L43.5 496.5 L43.5 482.5 L57.5 482.5 L57.5 451.5 L72.5 451.5 L72.5 432.5 L87.5 432.5 L87.5 418.5 L102.5 418.5 L102.5 408.5 L116.5 408.5 L116.5 390.5 L131.5 390.5 L131.5 386.5 L146.5 386.5 L146.5 386.5 L161.5 386.5 L161.5 400.5 L175.5 400.5 L175.5 417.5 L190.5 417.5 L190.5 435.5 L198 435.5" stroke="#4aa3dc"/><path d="M35.8 496.5 L43.5 496.5 L43.5 484.5 L57.5 484.5 L57.5 455.5 L72.5 455.5 L72.5 436.5 L87.5 436.5 L87.5 422.5 L102.5 422.5 L102.5 413.5 L116.5 413.5 L116.5 394.5 L131.5 394.5 L131.5 392.5 L146.5 392.5 L146.5 391.5 L161.5 391.5 L161.5 404.5 L175.5 404.5 L175.5 418.5 L190.5 418.5 L190.5 435.5 L198 435.5" stroke="#35b65a"/><path d="M35.8 496.5 L43.5 496.5 L43.5 483.5 L57.5 483.5 L57.5 452.5 L72.5 452.5 L72.5 433.5 L87.5 433.5 L87.5 419.5 L102.5 419.5 L102.5 409.5 L116.5 409.5 L116.5 391.5 L131.5 391.5 L131.5 388.5 L146.5 388.5 L146.5 387.5 L161.5 387.5 L161.5 401.5 L175.5 401.5 L175.5 417.5 L190.5 417.5 L190.5 435.5 L198 435.5" stroke="#8566c9"/><path d="M35.8 496.5 L43.5 496.5 L43.5 483.5 L57.5 483.5 L57.5 453.5 L72.5 453.5 L72.5 434.5 L87.5 434.5 L87.5 420.5 L102.5 420.5 L102.5 411.5 L116.5 411.5 L116.5 392.5 L131.5 392.5 L131.5 389.5 L146.5 389.5 L146.5 389.5 L161.5 389.5 L161.5 403.5 L175.5 403.5 L175.5 418.5 L190.5 418.5 L190.5 435.5 L198 435.5" stroke="#ff9a3a"/><path d="M35.8 496.5 L43.5 496.5 L43.5 482.5 L57.5 482.5 L57.5 451.5 L72.5 451.5 L72.5 432.5 L87.5 432.5 L87.5 418.5 L102.5 418.5 L102.5 408.5 L116.5 408.5 L116.5 390.5 L131.5 390.5 L131.5 387.5 L146.5 387.5 L146.5 386.5 L161.5 386.5 L161.5 400.5 L175.5 400.5 L175.5 417.5 L190.5 417.5 L190.5 435.5 L198 435.5" stroke="#1f8a8f"/><path d="M35.8 496.5 L43.5 496.5 L43.5 483.5 L57.5 483.5 L57.5 454.5 L72.5 454.5 L72.5 434.5 L87.5 434.5 L87.5 421.5 L102.5 421.5 L102.5 411.5 L116.5 411.5 L116.5 393.5 L131.5 393.5 L131.5 390.5 L146.5 390.5 L146.5 389.5 L161.5 389.5 L161.5 403.5 L175.5 403.5 L175.5 418.5 L190.5 418.5 L190.5 435.5 L198 435.5" stroke="#c4825c"/><path d="M35.8 496.5 L43.5 496.5 L43.5 483.5 L57.5 483.5 L57.5 454.5 L72.5 454.5 L72.5 435.5 L87.5 435.5 L87.5 421.5 L102.5 421.5 L102.5 412.5 L116.5 412.5 L116.5 393.5 L131.5 393.5 L131.5 390.5 L146.5 390.5 L146.5 389.5 L161.5 389.5 L161.5 403.5 L175.5 403.5 L175.5 418.5 L190.5 418.5 L190.5 435.5 L198 435.5" stroke="#ff8fc8"/><path d="M35.8 496.5 L43.5 496.5 L43.5 484.5 L57.5 484.5 L57.5 455.5 L72.5 455.5 L72.5 436.5 L87.5 436.5 L87.5 422.5 L102.5 422.5 L102.5 413.5 L116.5 413.5 L116.5 394.5 L131.5 394.5 L131.5 392.5 L146.5 392.5 L146.5 391.5 L161.5 391.5 L161.5 404.5 L175.5 404.5 L175.5 418.5 L190.5 418.5 L190.5 435.5 L198 435.5" stroke="#3fbe3f"/><path d="M35.8 496.5 L43.5 496.5 L43.5 485.5 L57.5 485.5 L57.5 456.5 L72.5 456.5 L72.5 437.5 L87.5 437.5 L87.5 424.5 L102.5 424.5 L102.5 415.5 L116.5 415.5 L116.5 396.5 L131.5 396.5 L131.5 393.5 L146.5 393.5 L146.5 392.5 L161.5 392.5 L161.5 406.5 L175.5 406.5 L175.5 419.5 L190.5 419.5 L190.5 435.5 L198 435.5" stroke="#ff6060"/></g><g fill="none" stroke="#777" stroke-width="1.35"><rect x="35.8" y="371.4" width="162.2" height="130.8"/><path d="M33.4 502.2H35.8M33.4 491.3H35.8M33.4 480.4H35.8M33.4 469.5H35.8M33.4 458.6H35.8M33.4 447.7H35.8M33.4 436.8H35.8M33.4 425.9H35.8M33.4 415H35.8M33.4 404.1H35.8M33.4 393.2H35.8M33.4 382.3H35.8M33.4 371.4H35.8M35.8 502.2V504.4M50.55 502.2V504.4M65.29 502.2V504.4M80.04 502.2V504.4M94.78 502.2V504.4M109.53 502.2V504.4M124.27 502.2V504.4M139.02 502.2V504.4M153.76 502.2V504.4M168.51 502.2V504.4M183.25 502.2V504.4M198 502.2V504.4"/></g><g font-size="9.4" fill="#1a1a1a" stroke="#1a1a1a" stroke-width="0.16"><text x="30.9" y="506" text-anchor="end">28</text><text x="30.9" y="495.1" text-anchor="end">29</text><text x="30.9" y="484.2" text-anchor="end">30</text><text x="30.9" y="473.3" text-anchor="end">31</text><text x="30.9" y="462.4" text-anchor="end">32</text><text x="30.9" y="451.5" text-anchor="end">33</text><text x="30.9" y="440.6" text-anchor="end">34</text><text x="30.9" y="429.7" text-anchor="end">35</text><text x="30.9" y="418.8" text-anchor="end">36</text><text x="30.9" y="407.9" text-anchor="end">37</text><text x="30.9" y="397" text-anchor="end">38</text><text x="30.9" y="386.1" text-anchor="end">39</text><text x="30.9" y="375.2" text-anchor="end">40</text><text x="35.8" y="514.2" text-anchor="middle">8</text><text x="50.55" y="514.2" text-anchor="middle">9</text><text x="65.29" y="514.2" text-anchor="middle">10</text><text x="80.04" y="514.2" text-anchor="middle">11</text><text x="94.78" y="514.2" text-anchor="middle">12</text><text x="109.53" y="514.2" text-anchor="middle">13</text><text x="124.27" y="514.2" text-anchor="middle">14</text><text x="139.02" y="514.2" text-anchor="middle">15</text><text x="153.76" y="514.2" text-anchor="middle">16</text><text x="168.51" y="514.2" text-anchor="middle">17</text><text x="183.25" y="514.2" text-anchor="middle">18</text><text x="198" y="514.2" text-anchor="middle">19</text></g><text transform="translate(16.1 438.25) scale(0.93 1) rotate(-90)" text-anchor="middle" font-size="13.58" fill="#111" stroke="#111" stroke-width="0.15">Air temperature (°C)</text><text x="108.75" y="528.6" text-anchor="middle" font-size="13.8" textLength="47" lengthAdjust="spacingAndGlyphs" fill="#111" stroke="#111" stroke-width="0.15">Time (h)</text><text x="112.75" y="545.3" text-anchor="middle" font-size="14.5" textLength="15.6" lengthAdjust="spacingAndGlyphs" fill="#111" stroke="#111" stroke-width="0.15">(e)</text><g stroke-width="1.5"><path d="M200.4 414.9H218" stroke="#5e5e5e" stroke-width="1.8"/><path d="M200.4 424.49H218" stroke="#4aa3dc"/><path d="M200.4 434.08H218" stroke="#35b65a"/><path d="M200.4 443.67H218" stroke="#8566c9"/><path d="M200.4 453.26H218" stroke="#ff9a3a"/><path d="M200.4 462.85H218" stroke="#1f8a8f"/><path d="M200.4 472.44H218" stroke="#c4825c"/><path d="M200.4 482.03H218" stroke="#ff8fc8"/><path d="M200.4 491.62H218" stroke="#3fbe3f"/><path d="M200.4 501.21H218" stroke="#ff6060"/></g><g font-size="8" fill="#1a1a1a" stroke="#1a1a1a" stroke-width="0.2"><text x="219.8" y="417.9" textLength="28.6" lengthAdjust="spacingAndGlyphs">No shade</text><text x="219.8" y="427.49" textLength="21.6" lengthAdjust="spacingAndGlyphs">L5-D-1</text><text x="219.8" y="437.08" textLength="21.6" lengthAdjust="spacingAndGlyphs">L5-D-2</text><text x="219.8" y="446.67" textLength="21.6" lengthAdjust="spacingAndGlyphs">L5-D-3</text><text x="219.8" y="456.26" textLength="21.6" lengthAdjust="spacingAndGlyphs">L5-D-4</text><text x="219.8" y="465.85" textLength="21.6" lengthAdjust="spacingAndGlyphs">L5-D-5</text><text x="219.8" y="475.44" textLength="21.6" lengthAdjust="spacingAndGlyphs">L5-D-6</text><text x="219.8" y="485.03" textLength="21.6" lengthAdjust="spacingAndGlyphs">L5-D-7</text><text x="219.8" y="494.62" textLength="21.6" lengthAdjust="spacingAndGlyphs">L5-D-8</text><text x="219.8" y="504.21" textLength="21.6" lengthAdjust="spacingAndGlyphs">L5-D-9</text></g><g fill="none" stroke-width="1" stroke-opacity="0.85"><path d="M285.5 495.5 L292.5 495.5 L292.5 480.5 L307.5 480.5 L307.5 447.5 L322.5 447.5 L322.5 428.5 L336.5 428.5 L336.5 413.5 L351.5 413.5 L351.5 403.5 L366.5 403.5 L366.5 385.5 L381.5 385.5 L381.5 382.5 L395.5 382.5 L395.5 382.5 L410.5 382.5 L410.5 396.5 L425.5 396.5 L425.5 415.5 L439.5 415.5 L439.5 434.5 L447.2 434.5" stroke="#505050"/><path d="M285.5 495.5 L292.5 495.5 L292.5 482.5 L307.5 482.5 L307.5 451.5 L322.5 451.5 L322.5 432.5 L336.5 432.5 L336.5 418.5 L351.5 418.5 L351.5 409.5 L366.5 409.5 L366.5 390.5 L381.5 390.5 L381.5 386.5 L395.5 386.5 L395.5 386.5 L410.5 386.5 L410.5 400.5 L425.5 400.5 L425.5 416.5 L439.5 416.5 L439.5 435.5 L447.2 435.5" stroke="#4aa3dc"/><path d="M285.5 495.5 L292.5 495.5 L292.5 484.5 L307.5 484.5 L307.5 455.5 L322.5 455.5 L322.5 437.5 L336.5 437.5 L336.5 424.5 L351.5 424.5 L351.5 415.5 L366.5 415.5 L366.5 395.5 L381.5 395.5 L381.5 391.5 L395.5 391.5 L395.5 390.5 L410.5 390.5 L410.5 404.5 L425.5 404.5 L425.5 418.5 L439.5 418.5 L439.5 435.5 L447.2 435.5" stroke="#35b65a"/><path d="M285.5 495.5 L292.5 495.5 L292.5 482.5 L307.5 482.5 L307.5 452.5 L322.5 452.5 L322.5 433.5 L336.5 433.5 L336.5 420.5 L351.5 420.5 L351.5 410.5 L366.5 410.5 L366.5 391.5 L381.5 391.5 L381.5 388.5 L395.5 388.5 L395.5 387.5 L410.5 387.5 L410.5 401.5 L425.5 401.5 L425.5 417.5 L439.5 417.5 L439.5 435.5 L447.2 435.5" stroke="#8566c9"/><path d="M285.5 495.5 L292.5 495.5 L292.5 483.5 L307.5 483.5 L307.5 454.5 L322.5 454.5 L322.5 435.5 L336.5 435.5 L336.5 421.5 L351.5 421.5 L351.5 412.5 L366.5 412.5 L366.5 393.5 L381.5 393.5 L381.5 389.5 L395.5 389.5 L395.5 388.5 L410.5 388.5 L410.5 402.5 L425.5 402.5 L425.5 417.5 L439.5 417.5 L439.5 435.5 L447.2 435.5" stroke="#ff9a3a"/><path d="M285.5 495.5 L292.5 495.5 L292.5 482.5 L307.5 482.5 L307.5 451.5 L322.5 451.5 L322.5 432.5 L336.5 432.5 L336.5 419.5 L351.5 419.5 L351.5 409.5 L366.5 409.5 L366.5 390.5 L381.5 390.5 L381.5 386.5 L395.5 386.5 L395.5 386.5 L410.5 386.5 L410.5 400.5 L425.5 400.5 L425.5 416.5 L439.5 416.5 L439.5 435.5 L447.2 435.5" stroke="#1f8a8f"/><path d="M285.5 495.5 L292.5 495.5 L292.5 483.5 L307.5 483.5 L307.5 454.5 L322.5 454.5 L322.5 435.5 L336.5 435.5 L336.5 422.5 L351.5 422.5 L351.5 413.5 L366.5 413.5 L366.5 393.5 L381.5 393.5 L381.5 389.5 L395.5 389.5 L395.5 389.5 L410.5 389.5 L410.5 402.5 L425.5 402.5 L425.5 417.5 L439.5 417.5 L439.5 435.5 L447.2 435.5" stroke="#c4825c"/><path d="M285.5 495.5 L292.5 495.5 L292.5 483.5 L307.5 483.5 L307.5 454.5 L322.5 454.5 L322.5 436.5 L336.5 436.5 L336.5 422.5 L351.5 422.5 L351.5 413.5 L366.5 413.5 L366.5 393.5 L381.5 393.5 L381.5 390.5 L395.5 390.5 L395.5 389.5 L410.5 389.5 L410.5 403.5 L425.5 403.5 L425.5 417.5 L439.5 417.5 L439.5 435.5 L447.2 435.5" stroke="#ff8fc8"/><path d="M285.5 495.5 L292.5 495.5 L292.5 484.5 L307.5 484.5 L307.5 455.5 L322.5 455.5 L322.5 437.5 L336.5 437.5 L336.5 424.5 L351.5 424.5 L351.5 415.5 L366.5 415.5 L366.5 395.5 L381.5 395.5 L381.5 391.5 L395.5 391.5 L395.5 390.5 L410.5 390.5 L410.5 404.5 L425.5 404.5 L425.5 418.5 L439.5 418.5 L439.5 435.5 L447.2 435.5" stroke="#3fbe3f"/><path d="M285.5 495.5 L292.5 495.5 L292.5 485.5 L307.5 485.5 L307.5 457.5 L322.5 457.5 L322.5 439.5 L336.5 439.5 L336.5 426.5 L351.5 426.5 L351.5 417.5 L366.5 417.5 L366.5 397.5 L381.5 397.5 L381.5 393.5 L395.5 393.5 L395.5 392.5 L410.5 392.5 L410.5 405.5 L425.5 405.5 L425.5 419.5 L439.5 419.5 L439.5 435.5 L447.2 435.5" stroke="#ff6060"/></g><g fill="none" stroke="#888" stroke-width="1.4"><rect x="285.5" y="371.3" width="161.7" height="130.1"/><path d="M283.1 501.4H285.5M283.1 490.56H285.5M283.1 479.72H285.5M283.1 468.88H285.5M283.1 458.03H285.5M283.1 447.19H285.5M283.1 436.35H285.5M283.1 425.51H285.5M283.1 414.67H285.5M283.1 403.82H285.5M283.1 392.98H285.5M283.1 382.14H285.5M283.1 371.3H285.5M285.5 501.4V503.6M300.2 501.4V503.6M314.9 501.4V503.6M329.6 501.4V503.6M344.3 501.4V503.6M359 501.4V503.6M373.7 501.4V503.6M388.4 501.4V503.6M403.1 501.4V503.6M417.8 501.4V503.6M432.5 501.4V503.6M447.2 501.4V503.6"/></g><g font-size="9.4" fill="#1a1a1a" stroke="#1a1a1a" stroke-width="0.16"><text x="280.6" y="505.2" text-anchor="end">28</text><text x="280.6" y="494.36" text-anchor="end">29</text><text x="280.6" y="483.52" text-anchor="end">30</text><text x="280.6" y="472.68" text-anchor="end">31</text><text x="280.6" y="461.83" text-anchor="end">32</text><text x="280.6" y="450.99" text-anchor="end">33</text><text x="280.6" y="440.15" text-anchor="end">34</text><text x="280.6" y="429.31" text-anchor="end">35</text><text x="280.6" y="418.47" text-anchor="end">36</text><text x="280.6" y="407.62" text-anchor="end">37</text><text x="280.6" y="396.78" text-anchor="end">38</text><text x="280.6" y="385.94" text-anchor="end">39</text><text x="280.6" y="375.1" text-anchor="end">40</text><text x="285.5" y="513.4" text-anchor="middle">8</text><text x="300.2" y="513.4" text-anchor="middle">9</text><text x="314.9" y="513.4" text-anchor="middle">10</text><text x="329.6" y="513.4" text-anchor="middle">11</text><text x="344.3" y="513.4" text-anchor="middle">12</text><text x="359" y="513.4" text-anchor="middle">13</text><text x="373.7" y="513.4" text-anchor="middle">14</text><text x="388.4" y="513.4" text-anchor="middle">15</text><text x="403.1" y="513.4" text-anchor="middle">16</text><text x="417.8" y="513.4" text-anchor="middle">17</text><text x="432.5" y="513.4" text-anchor="middle">18</text><text x="447.2" y="513.4" text-anchor="middle">19</text></g><text transform="translate(266.7 438.55) scale(0.93 1) rotate(-90)" text-anchor="middle" font-size="13.6" fill="#111" stroke="#111" stroke-width="0.15">Air temperature (°C)</text><text x="357.65" y="527.7" text-anchor="middle" font-size="13.8" textLength="47" lengthAdjust="spacingAndGlyphs" fill="#111" stroke="#111" stroke-width="0.15">Time (h)</text><text x="361.95" y="544" text-anchor="middle" font-size="14.5" textLength="14.8" lengthAdjust="spacingAndGlyphs" fill="#111" stroke="#111" stroke-width="0.15">(f)</text><g stroke-width="1.5"><path d="M449.1 414H466.7" stroke="#5e5e5e" stroke-width="1.8"/><path d="M449.1 423.6H466.7" stroke="#4aa3dc"/><path d="M449.1 433.2H466.7" stroke="#35b65a"/><path d="M449.1 442.8H466.7" stroke="#8566c9"/><path d="M449.1 452.4H466.7" stroke="#ff9a3a"/><path d="M449.1 462H466.7" stroke="#1f8a8f"/><path d="M449.1 471.6H466.7" stroke="#c4825c"/><path d="M449.1 481.2H466.7" stroke="#ff8fc8"/><path d="M449.1 490.8H466.7" stroke="#3fbe3f"/><path d="M449.1 500.4H466.7" stroke="#ff6060"/></g><g font-size="8" fill="#1a1a1a" stroke="#1a1a1a" stroke-width="0.2"><text x="468.6" y="417" textLength="28.6" lengthAdjust="spacingAndGlyphs">No shade</text><text x="468.6" y="426.6" textLength="21.6" lengthAdjust="spacingAndGlyphs">L6-D-1</text><text x="468.6" y="436.2" textLength="21.6" lengthAdjust="spacingAndGlyphs">L6-D-2</text><text x="468.6" y="445.8" textLength="21.6" lengthAdjust="spacingAndGlyphs">L6-D-3</text><text x="468.6" y="455.4" textLength="21.6" lengthAdjust="spacingAndGlyphs">L6-D-4</text><text x="468.6" y="465" textLength="21.6" lengthAdjust="spacingAndGlyphs">L6-D-5</text><text x="468.6" y="474.6" textLength="21.6" lengthAdjust="spacingAndGlyphs">L6-D-6</text><text x="468.6" y="484.2" textLength="21.6" lengthAdjust="spacingAndGlyphs">L6-D-7</text><text x="468.6" y="493.8" textLength="21.6" lengthAdjust="spacingAndGlyphs">L6-D-8</text><text x="468.6" y="503.4" textLength="21.6" lengthAdjust="spacingAndGlyphs">L6-D-9</text></g></svg>
</body></html>
